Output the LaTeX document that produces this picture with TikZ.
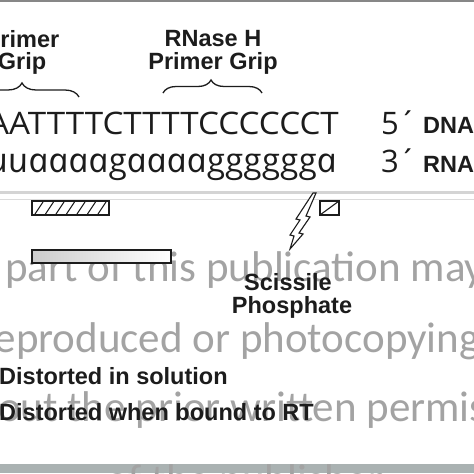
\documentclass[tikz,border=0pt]{standalone}
\usepackage{fontspec}
\usepackage{graphicx}
\usetikzlibrary{decorations.pathreplacing}
\setmainfont{Liberation Sans}
\newfontfamily\seqfont{Open Sans}
\newfontfamily\wmfont{Carlito}
\definecolor{barbot}{RGB}{170,178,178}
\definecolor{ink}{RGB}{28,28,28}
\tikzset{
  lbl/.style={font=\fontsize{23.5}{27}\selectfont\bfseries, text=ink, inner sep=0pt, anchor=base},
  seq/.style={font=\seqfont\fontsize{31}{35}\selectfont, text=ink, inner sep=0pt, anchor=base east},
  wm/.style={font=\wmfont\fontsize{43}{47}\selectfont, text=black!36, inner sep=0pt, anchor=base west},
  bracez/.style={decorate, decoration={brace, amplitude=14pt}, line width=1.3pt, ink},
  boxline/.style={line width=1.2pt, ink}
}
\begin{document}
\begin{tikzpicture}[x=1pt, y=-1pt]
\useasboundingbox (0,0) rectangle (474,474);
\clip (0,0) rectangle (474,474);
\fill[white] (0,0) rectangle (474,474);
% frame bars
\fill[black!47] (0,0) rectangle (474,2.2);
\fill[barbot] (0,464) rectangle (474,473);
% watermark
\node[wm] (w1) at (5,281) {part of this publication may};
\node[wm] (w2) at (-20,352) {reproduced or photocopying};
\node[wm] (w3) at (-2,421) {out the prior written permis};
\node[wm] (w4) at (106,494) {of the publisher};
% labels
\node[lbl] (pg1a) at (22,47) {Primer};
\node[lbl] (pg1b) at (22,69) {Grip};
\node[lbl] (rh1) at (213,46) {RNase H};
\node[lbl] (rh2) at (213,69) {Primer Grip};
% braces
\coordinate (b1l) at (-35,97);
\coordinate (b1r) at (79,97);
\coordinate (b2l) at (163,93);
\coordinate (b2r) at (262,93);
\draw[bracez] (b1l) -- (b1r);
\draw[bracez, decoration={brace, amplitude=13pt, aspect=0.485}] (b2l) -- (b2r);
% sequences
\node[seq] (dna) at (339,134) {\scalebox{1.07}[1]{AATTTTCTTTTCCCCCCT}};
\begin{scope}[shift={(339,172)}, xslant=-0.21, xscale=1.04]
\node[seq, transform shape, font=\seqfont\itshape\fontsize{34}{38}\selectfont] (rna) at (0,0) {uuaaaagaaaagggggga};
\end{scope}
\node[seq, anchor=base west] (p5) at (381,134) {5´};
\node[seq, anchor=base west] (p3) at (381,172) {3´};
\node[lbl, anchor=base west] (dnal) at (423,133) {DNA};
\node[lbl, anchor=base west] (rnal) at (423,172) {RNA};
% separator lines
\fill[black!17] (0,190.5) rectangle (474,194);
\draw[black!14, line width=1.2pt] (0,199.5) -- (474,199.5);
% hatched box
\begin{scope}
\clip (32,201) rectangle (109,215);
\foreach \i in {0,...,7} \draw[line width=1.1pt, ink] ({35+\i*10.5},214) -- ({43+\i*10.5},202);
\end{scope}
\draw[boxline] (32,201) rectangle (109,215);
% stippled box
\shade[left color=black!20, right color=white] (32,250) rectangle (171,263);
\draw[boxline] (32,250) rectangle (171,263);
% small square
\draw[boxline] (320,201) rectangle (339,215);
\draw[line width=1.1pt, ink] (320,215) -- (339,201);
% lightning bolt
\draw[line width=1.1pt, ink, fill=white, line join=miter]
  (316,193) -- (306,216) -- (310,217) -- (299,233) -- (303,234) -- (290,249)
  -- (294,236) -- (290,235) -- (300,220) -- (296,219) -- (313,193) -- cycle;
\node[lbl] (sc1) at (288,290) {Scissile};
\node[lbl] (sc2) at (292,313) {Phosphate};
% legend
\node[lbl, anchor=base west] (d1) at (-1,384) {Distorted in solution};
\node[lbl, anchor=base west] (d2) at (-1,420) {Distorted when bound to RT};
\end{tikzpicture}
\end{document}
